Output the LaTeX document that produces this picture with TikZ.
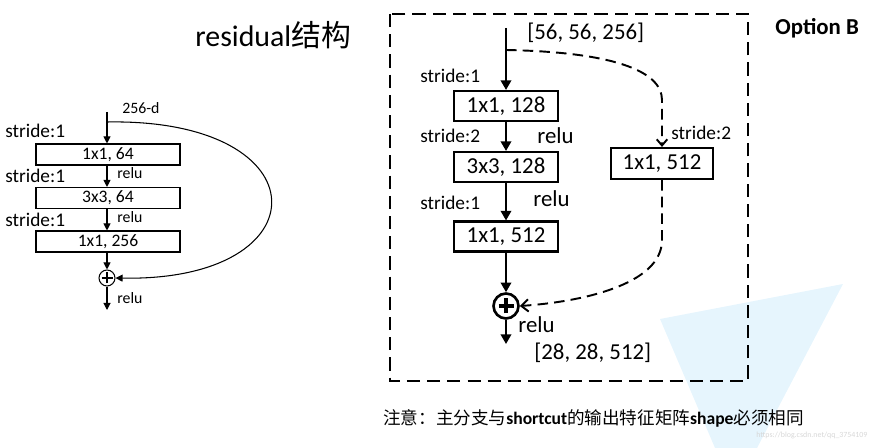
\documentclass[tikz,border=0pt]{standalone}
\usepackage{fontspec}
\setmainfont{Carlito}
\newfontfamily\cjk{Noto Sans CJK SC}
\usetikzlibrary{arrows.meta}
\definecolor{paleblue}{RGB}{230,245,253}
\definecolor{wmgray}{RGB}{215,215,215}
\tikzset{
  lbox/.style={draw,line width=0.6pt,minimum width=2.88cm,minimum height=0.42cm,inner sep=0pt,font=\fontsize{10}{12}\selectfont},
  rbox/.style={draw,line width=1.2pt,minimum width=2.08cm,minimum height=0.6cm,inner sep=0pt,font=\fontsize{13}{15}\selectfont},
  ltxt/.style={anchor=west,inner sep=0pt,font=\fontsize{11}{13}\selectfont},
  lsmall/.style={anchor=west,inner sep=0pt,font=\fontsize{9}{11}\selectfont},
  rtxt/.style={anchor=west,inner sep=0pt,font=\fontsize{11}{13}\selectfont},
  rbig/.style={anchor=west,inner sep=0pt,font=\fontsize{13}{15}\selectfont},
  larr/.style={-{Triangle[width=4pt,length=4pt]},line width=0.6pt},
  rarr/.style={-{Triangle[width=6pt,length=5.5pt]},line width=1.1pt},
  rdash/.style={line width=1.1pt,dash pattern=on 6pt off 3.5pt},
  lsum/.style={circle,draw,line width=0.6pt,minimum size=0.32cm,inner sep=0pt,
    path picture={\draw[line width=0.6pt]
      ([xshift=-0.11cm]path picture bounding box.center) -- ([xshift=0.11cm]path picture bounding box.center)
      ([yshift=-0.11cm]path picture bounding box.center) -- ([yshift=0.11cm]path picture bounding box.center);}},
  rsum/.style={circle,draw,line width=1.5pt,minimum size=0.5cm,inner sep=0pt,
    path picture={\draw[line width=2.6pt]
      ([xshift=-0.15cm]path picture bounding box.center) -- ([xshift=0.15cm]path picture bounding box.center)
      ([yshift=-0.15cm]path picture bounding box.center) -- ([yshift=0.15cm]path picture bounding box.center);}}
}
\begin{document}
\begin{tikzpicture}[x=0.02cm,y=-0.02cm]
\useasboundingbox (0,0) rectangle (875,448);
% pale overlay
\fill[paleblue] (660,319) -- (843,284) -- (757,448) -- (715,448) -- cycle;
% title
\node[anchor=west,inner sep=0pt,font=\fontsize{17}{20}\selectfont] (title) at (195,35) {residual{\cjk 结构}};
% left block
\coordinate (lin) at (107,112);
\coordinate (lsplit) at (107,122);
\node[lbox] (l1) at (108,154.5) {1x1, 64};
\node[lbox] (l2) at (108,198) {3x3, 64};
\node[lbox] (l3) at (108,241.5) {1x1, 256};
\node[lsum] (ladd) at (107,278) {};
\coordinate (lout) at (107,310);
\draw[larr] (lin) -- (lin |- l1.north);
\draw[larr] (l1.south -| lin) -- (lin |- l2.north);
\draw[larr] (l2.south -| lin) -- (lin |- l3.north);
\draw[larr] (l3.south -| lin) -- (ladd.north);
\draw[larr] (ladd.south) -- (lout);
\draw[larr] (lsplit) .. controls (324,118) and (324,282) .. (ladd.east);
\node[lsmall] (ld) at (122,108) {256-d};
\node[ltxt] (ls1) at (5,131) {stride:1};
\node[ltxt] (ls2) at (5,176) {stride:1};
\node[ltxt] (ls3) at (5,220) {stride:1};
\node[lsmall] (lr1) at (117,173) {relu};
\node[lsmall] (lr2) at (117,217) {relu};
\node[lsmall] (lr3) at (117,298) {relu};
% right block, option B
\draw[line width=1.4pt,dash pattern=on 7.5pt off 4pt] (390,14) rectangle (748,381);
\node[anchor=west,inner sep=0pt,font=\bfseries\fontsize{13}{15}\selectfont] (opt) at (775,28) {Option B};
\coordinate (rin) at (506,28);
\coordinate (rsplit) at (506,50);
\node[rbox] (r1) at (506,106) {1x1, 128};
\node[rbox] (r2) at (506,167) {3x3, 128};
\node[rbox] (r3) at (506,236.5) {1x1, 512};
\node[rbox,minimum width=2.04cm,minimum height=0.62cm] (sc) at (662,163.5) {1x1, 512};
\node[rsum] (radd) at (506,306) {};
\coordinate (rout) at (506,344);
\draw[rarr] (rin) -- (r1.north);
\draw[rarr] (r1.south) -- (r2.north);
\draw[rarr] (r2.south) -- (r3.north);
\draw[rarr] (r3.south) -- (radd.north);
\draw[rarr] (radd.south) -- (rout);
\draw[rdash,-{Straight Barb[width=6pt,length=3.5pt]}] (rsplit) .. controls (610,52) and (662,70) .. (662,100) -- (sc.north);
\draw[rdash,-{Straight Barb[width=7pt,length=4pt]}] (sc.south) -- (662,240) .. controls (662,285) and (580,302) .. (radd.east);
\node[rbig] (shin) at (527,33) {[56, 56, 256]};
\node[rtxt] (rs1) at (420,76) {stride:1};
\node[rtxt] (rs2) at (420,136) {stride:2};
\node[rtxt] (rs3) at (420,203) {stride:1};
\node[rtxt] (rs4) at (671,133) {stride:2};
\node[rbig] (rr1) at (537,136) {relu};
\node[rbig] (rr2) at (533,199) {relu};
\node[rbig] (rr3) at (518,325) {relu};
\node[rbig] (shout) at (534,353) {[28, 28, 512]};
% note
\node[anchor=west,inner sep=0pt,font=\fontsize{10}{12}\selectfont] (note) at (383,418)
  {{\cjk 注意：主分支与}\textbf{shortcut}{\cjk 的输出特征矩阵}\textbf{shape}{\cjk 必须相同}};
\node[anchor=west,inner sep=0pt,text=wmgray,font=\fontsize{4.5}{6}\selectfont] (wm) at (756,435) {https://blog.csdn.net/qq\_3754109};
\end{tikzpicture}
\end{document}
